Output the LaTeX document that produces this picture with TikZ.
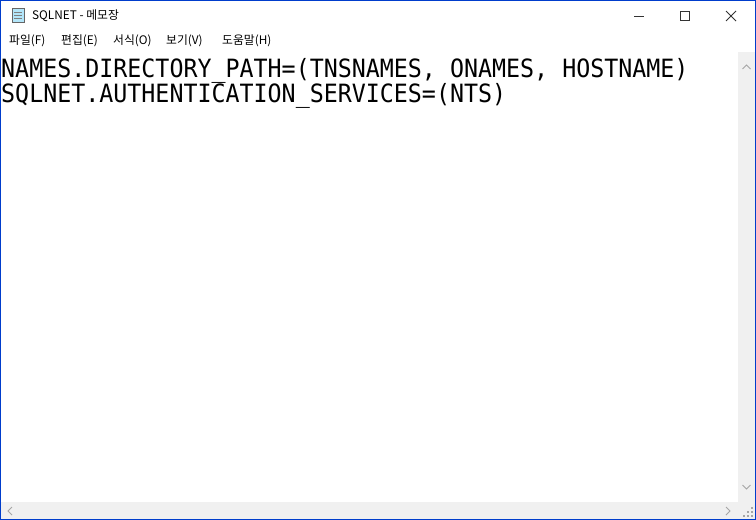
\documentclass[tikz,border=0pt]{standalone}
\usepackage{fontspec}
\newfontfamily\kr{Noto Sans CJK KR}
\newfontfamily\mono{DejaVu Sans Mono}
\begin{document}
\begin{tikzpicture}[x=1pt,y=-1pt,
  ui/.style={font=\kr\fontsize{11.8}{13}\selectfont,inner sep=0pt,anchor=west},
  code/.style={font=\mono\fontsize{23.3}{25}\selectfont,inner sep=0pt,anchor=base west,yscale=1.08},
  glyph/.style={draw=black!80,line width=0.8pt}]
\useasboundingbox (0,0) rectangle (756,520);
\fill[white] (0,0) rectangle (756,520);
% scrollbars
\fill[black!6] (738,52) rectangle (755,502);
\fill[black!6] (1,502) rectangle (755,519);
\fill[black!6] (738,502) rectangle (755,519);
% scroll arrows
\draw[black!35,line width=0.8pt] (742.5,69) -- (746.5,65) -- (750.5,69);
\draw[black!35,line width=0.8pt] (742.5,485) -- (746.5,489) -- (750.5,485);
\draw[black!35,line width=0.8pt] (12,507) -- (8,511) -- (12,515);
\draw[black!35,line width=0.8pt] (726,507) -- (730,511) -- (726,515);
\foreach \p in {(751,507),(751,511),(751,515),(747,511),(747,515),(743,515)}
  \fill[black!35] \p rectangle ++(1.5,1.5);
% window border
\draw[blue!70!cyan!80!black,line width=1pt] (0.5,0.5) rectangle (755.5,519.5);
% title icon
\fill[cyan!30] (12,8) rectangle (24,22);
\draw[black!60,line width=0.5pt] (12,8) rectangle (24,22);
\foreach \yy in {12,15,18} \draw[black!50,line width=0.4pt] (14,\yy) -- (22,\yy);
\node[ui] (title) at (32,15.5) {SQLNET - 메모장};
% window controls
\draw[glyph] (634,16.5) -- (644,16.5);
\draw[glyph] (680.5,11.5) rectangle (689.5,20.5);
\draw[glyph] (726,11) -- (736,21) (736,11) -- (726,21);
% menu
\node[ui] (m1) at (9,41) {파일(F)};
\node[ui] (m2) at (61,41) {편집(E)};
\node[ui] (m3) at (113,41) {서식(O)};
\node[ui] (m4) at (166,41) {보기(V)};
\node[ui] (m5) at (222,41) {도움말(H)};
% text
\node[code] (l1) at (1,77) {NAMES.DIRECTORY\_PATH=(TNSNAMES, ONAMES, HOSTNAME)};
\node[code] (l2) at (1,102) {SQLNET.AUTHENTICATION\_SERVICES=(NTS)};
\end{tikzpicture}
\end{document}
